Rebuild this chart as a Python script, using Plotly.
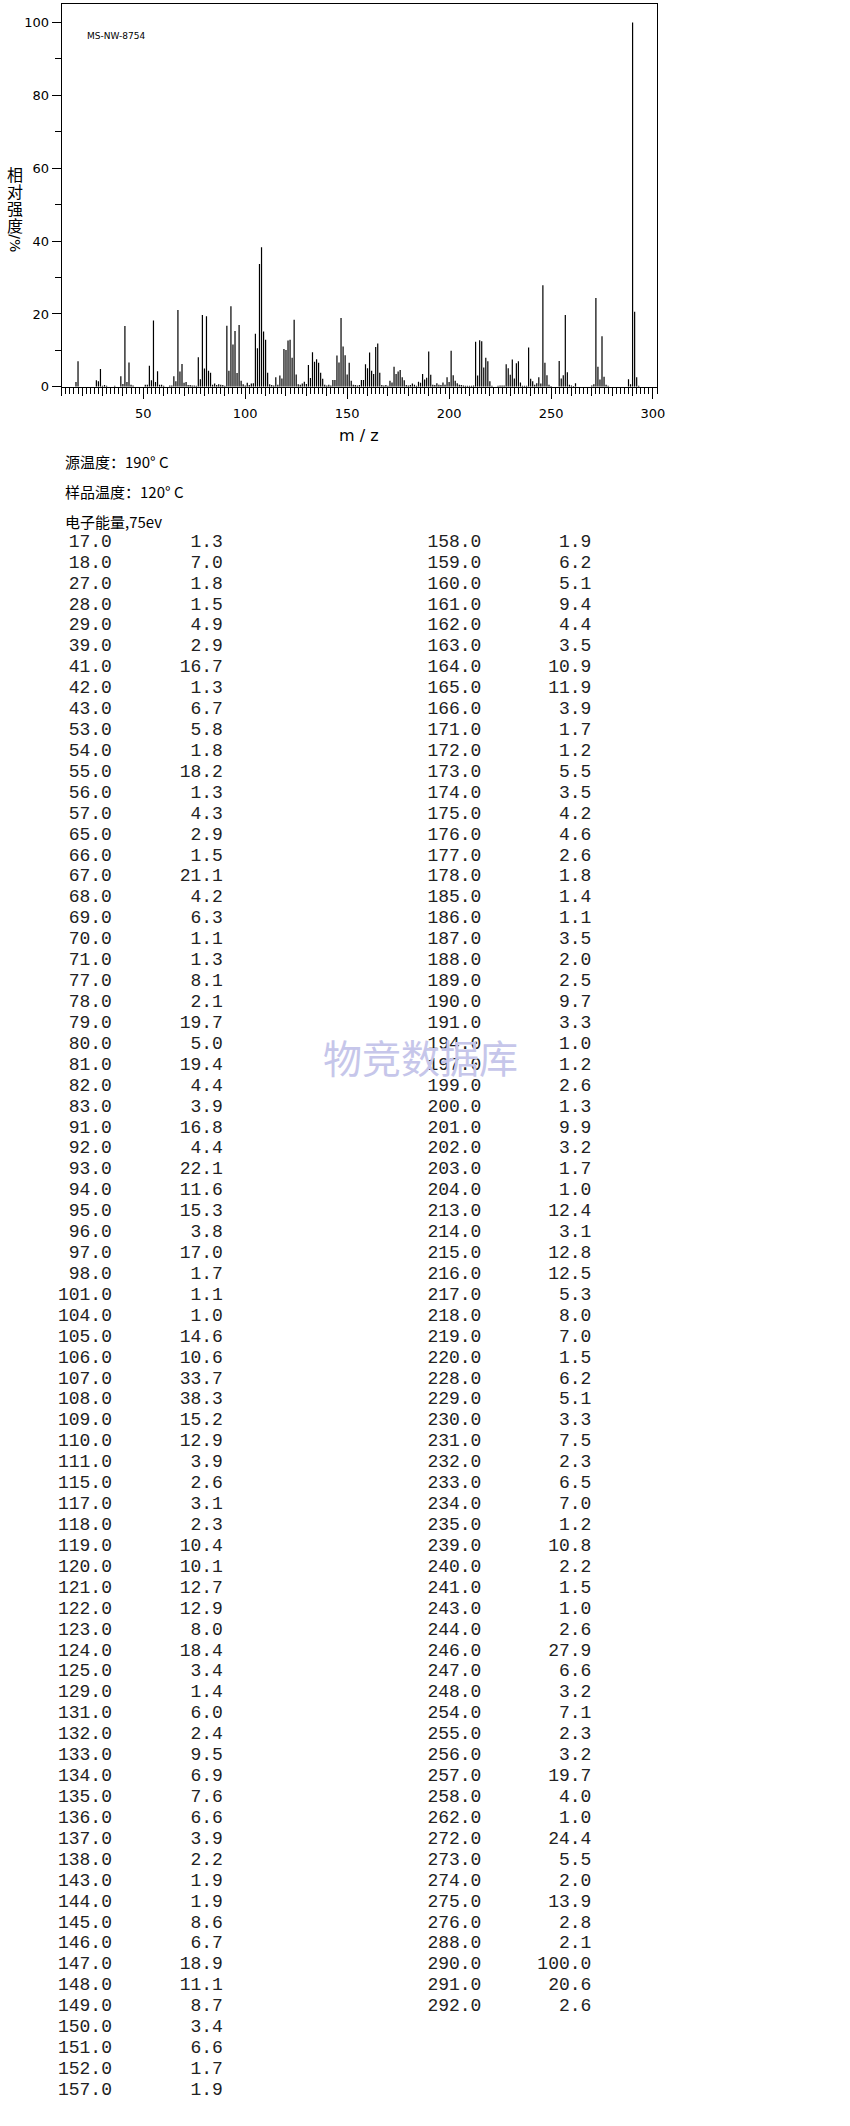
import plotly.graph_objects as go

# ---------------- data ----------------
left_mz = [17, 18, 27, 28, 29, 39, 41, 42, 43, 53, 54, 55, 56, 57, 65, 66, 67, 68, 69, 70, 71,
           77, 78, 79, 80, 81, 82, 83, 91, 92, 93, 94, 95, 96, 97, 98, 101, 104, 105, 106, 107,
           108, 109, 110, 111, 115, 117, 118, 119, 120, 121, 122, 123, 124, 125, 129, 131, 132,
           133, 134, 135, 136, 137, 138, 143, 144, 145, 146, 147, 148, 149, 150, 151, 152, 157]
left_int = [1.3, 7.0, 1.8, 1.5, 4.9, 2.9, 16.7, 1.3, 6.7, 5.8, 1.8, 18.2, 1.3, 4.3, 2.9, 1.5, 21.1,
            4.2, 6.3, 1.1, 1.3, 8.1, 2.1, 19.7, 5.0, 19.4, 4.4, 3.9, 16.8, 4.4, 22.1, 11.6, 15.3,
            3.8, 17.0, 1.7, 1.1, 1.0, 14.6, 10.6, 33.7, 38.3, 15.2, 12.9, 3.9, 2.6, 3.1, 2.3, 10.4,
            10.1, 12.7, 12.9, 8.0, 18.4, 3.4, 1.4, 6.0, 2.4, 9.5, 6.9, 7.6, 6.6, 3.9, 2.2, 1.9, 1.9,
            8.6, 6.7, 18.9, 11.1, 8.7, 3.4, 6.6, 1.7, 1.9]

right_mz = [158, 159, 160, 161, 162, 163, 164, 165, 166, 171, 172, 173, 174, 175, 176, 177, 178,
            185, 186, 187, 188, 189, 190, 191, 194, 197, 199, 200, 201, 202, 203, 204, 213, 214,
            215, 216, 217, 218, 219, 220, 228, 229, 230, 231, 232, 233, 234, 235, 239, 240, 241,
            243, 244, 246, 247, 248, 254, 255, 256, 257, 258, 262, 272, 273, 274, 275, 276, 288,
            290, 291, 292]
right_int = [1.9, 6.2, 5.1, 9.4, 4.4, 3.5, 10.9, 11.9, 3.9, 1.7, 1.2, 5.5, 3.5, 4.2, 4.6, 2.6, 1.8,
             1.4, 1.1, 3.5, 2.0, 2.5, 9.7, 3.3, 1.0, 1.2, 2.6, 1.3, 9.9, 3.2, 1.7, 1.0, 12.4, 3.1,
             12.8, 12.5, 5.3, 8.0, 7.0, 1.5, 6.2, 5.1, 3.3, 7.5, 2.3, 6.5, 7.0, 1.2, 10.8, 2.2, 1.5,
             1.0, 2.6, 27.9, 6.6, 3.2, 7.1, 2.3, 3.2, 19.7, 4.0, 1.0, 24.4, 5.5, 2.0, 13.9, 2.8, 2.1,
             100.0, 20.6, 2.6]

# small peaks visible in the spectrum but not listed in the table (estimated)
minor_mz = [30, 31, 32, 36, 40, 44, 45, 51, 52, 58, 59, 60, 63, 64, 72, 73, 74, 75, 76, 84, 85, 86,
            87, 88, 89, 90, 99, 100, 102, 103, 112, 113, 114, 116, 126, 127, 128, 130, 139, 140,
            141, 142, 153, 154, 155, 156, 167, 168, 169, 170, 179, 180, 181, 182, 183, 184, 192,
            193, 195, 196, 198, 205, 206, 207, 208, 209, 210, 211, 212, 221, 224, 225, 226, 227,
            236, 237, 238, 242, 245, 249, 250, 259, 260, 261, 270, 271, 277, 278, 289, 293]
minor_int = [0.3, 0.5, 0.3, 0.3, 0.8, 0.6, 0.4, 0.6, 0.6, 0.6, 0.6, 0.3, 0.4, 0.4, 0.5, 0.5, 0.4,
             0.4, 0.3, 0.6, 0.9, 0.5, 0.7, 0.6, 0.5, 0.3, 0.7, 0.4, 0.5, 0.9, 0.7, 0.5, 0.4, 0.6,
             0.7, 0.6, 0.9, 0.8, 0.6, 0.4, 0.6, 0.4, 0.6, 0.5, 0.4, 0.5, 0.5, 0.4, 0.5, 0.3, 0.5,
             0.4, 0.5, 0.9, 0.6, 0.3, 0.6, 0.5, 0.6, 0.5, 0.6, 0.6, 0.5, 0.4, 0.3, 0.3, 0.3, 0.3,
             0.4, 0.3, 0.3, 0.4, 0.4, 0.4, 0.3, 0.3, 0.3, 0.6, 0.9, 0.6, 0.2, 0.6, 0.4, 0.2, 0.4,
             0.7, 0.6, 0.3, 0.7, 0.3]

sample_id = "MS-NW-8754"
header_lines = ["源温度：190° C", "样品温度：120° C", "电子能量,75ev"]
watermark = "物竞数据库"

# ---------------- figure ----------------
W, H = 850, 2126
all_mz = left_mz + right_mz + minor_mz
all_int = left_int + right_int + minor_int

xs, ys = [], []
for m, v in zip(all_mz, all_int):
    xs += [m, m, None]
    ys += [0, v, None]

fig = go.Figure()
fig.add_trace(go.Scatter(x=xs, y=ys, mode="lines", line=dict(color="black", width=1.2),
                         connectgaps=False, hoverinfo="skip", showlegend=False,
                         xaxis="x", yaxis="y"))
# invisible trace to activate the medium-tick overlay axis
fig.add_trace(go.Scatter(x=[10], y=[0], mode="markers", marker=dict(opacity=0),
                         xaxis="x3", yaxis="y", showlegend=False, hoverinfo="skip"))

# table columns (row index axis)
mono = dict(family="Liberation Mono", size=18, color="#222")
rows_l = list(range(len(left_mz)))
rows_r = list(range(len(right_mz)))
for xcol, rows, vals in [(113, rows_l, [f"{m:.1f}" for m in left_mz]),
                         (225, rows_l, [f"{v:.1f}" for v in left_int]),
                         (486, rows_r, [f"{m:.1f}" for m in right_mz]),
                         (597, rows_r, [f"{v:.1f}" for v in right_int])]:
    fig.add_trace(go.Scatter(x=[xcol] * len(rows), y=rows, text=vals,
                             mode="text", textposition="middle left", textfont=mono,
                             xaxis="x2", yaxis="y2", showlegend=False, hoverinfo="skip"))

def py(px):
    return 1 - px / H

x_dom = [62.3 / W, 663.3 / W]
y_dom = [py(388.3), py(4.3)]
tickfont = dict(family="DejaVu Sans", size=13, color="black")

fig.update_layout(
    width=W, height=H, margin=dict(l=0, r=0, t=0, b=0, pad=0),
    paper_bgcolor="white", plot_bgcolor="rgba(0,0,0,0)", showlegend=False,
    xaxis=dict(domain=x_dom, range=[10, 302], tick0=0, dtick=50,
               ticks="outside", ticklen=11, tickwidth=1, tickcolor="black",
               ticklabelstandoff=4,
               showline=True, linecolor="black", linewidth=1, mirror=True,
               showgrid=False, zeroline=False, tickfont=tickfont,
               minor=dict(dtick=2, tick0=0, ticks="outside", ticklen=6, tickwidth=1,
                          tickcolor="black", showgrid=False),
               anchor="y"),
    xaxis3=dict(range=[10, 302], overlaying="x", anchor="y", side="bottom", tick0=0, dtick=10,
                ticks="outside", ticklen=8, tickwidth=1, tickcolor="black",
                showticklabels=False, showline=False, showgrid=False, zeroline=False),
    yaxis=dict(domain=y_dom, range=[0, 105], tick0=0, dtick=20,
               ticks="outside", ticklen=9, tickwidth=1, tickcolor="black",
               showline=True, linecolor="black", linewidth=1, mirror=True,
               showgrid=False, zeroline=False, tickfont=tickfont,
               minor=dict(dtick=10, tick0=0, ticks="outside", ticklen=6, tickwidth=1,
                          tickcolor="black", showgrid=False),
               anchor="x"),
    xaxis2=dict(domain=[0, 1], range=[0, W], visible=False, anchor="y2"),
    yaxis2=dict(domain=[0, py(430)], range=[75.32, -5.443], visible=False, anchor="x2"),
)

ann = []
ann.append(dict(text=sample_id, x=86 / W, y=py(36), xref="paper", yref="paper",
                xanchor="left", yanchor="middle", showarrow=False,
                font=dict(family="DejaVu Sans", size=9, color="black")))
for ch, yc in zip("相对强度", [175, 192, 209, 226]):
    ann.append(dict(text=ch, x=15 / W, y=py(yc), xref="paper", yref="paper",
                    xanchor="center", yanchor="middle", showarrow=False,
                    font=dict(family="Noto Sans CJK SC", size=16, color="black")))
ann.append(dict(text="/%", x=15 / W, y=py(244), xref="paper", yref="paper",
                xanchor="center", yanchor="middle", showarrow=False, textangle=90,
                font=dict(family="DejaVu Sans", size=14, color="black")))
ann.append(dict(text="m / z", x=362 / W, y=py(437), xref="paper", yref="paper",
                xanchor="center", yanchor="middle", showarrow=False,
                font=dict(family="DejaVu Sans", size=16, color="black")))
for line, yc in zip(header_lines, [463, 493, 523]):
    ann.append(dict(text=line, x=64 / W, y=py(yc), xref="paper", yref="paper",
                    xanchor="left", yanchor="middle", showarrow=False,
                    font=dict(family="Noto Sans CJK SC", size=15, color="black")))
ann.append(dict(text=watermark, x=424 / W, y=py(1060), xref="paper", yref="paper",
                xanchor="center", yanchor="middle", showarrow=False,
                font=dict(family="Noto Sans CJK SC", size=39, color="#c6c6ea")))
fig.update_layout(annotations=ann)

fig.write_html("out.html", config={"displayModeBar": False},
               post_script="document.body.style.margin='0px';document.body.style.overflow='hidden';")
